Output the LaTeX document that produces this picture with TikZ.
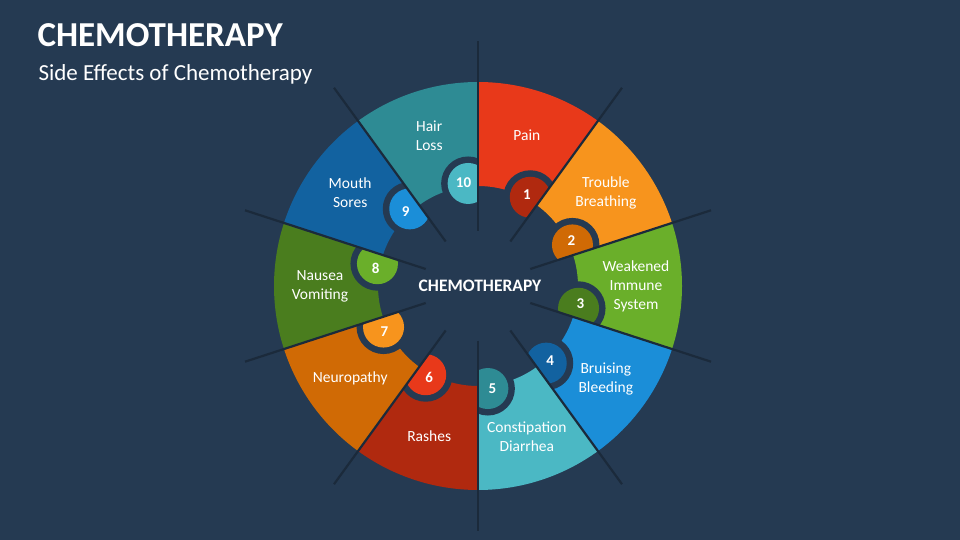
\documentclass[tikz,border=0pt]{standalone}
\usepackage{fontspec}
\setmainfont{Carlito}
\definecolor{bg}{HTML}{253A52}
\definecolor{ln}{HTML}{1B2A3B}
\definecolor{cA}{HTML}{E8391A}\definecolor{cAd}{HTML}{B0290F}
\definecolor{cB}{HTML}{F7941D}\definecolor{cBd}{HTML}{D06A05}
\definecolor{cC}{HTML}{6AAF2A}\definecolor{cCd}{HTML}{4A7D1E}
\definecolor{cD}{HTML}{1B8ED8}\definecolor{cDd}{HTML}{1262A0}
\definecolor{cE}{HTML}{4BB8C4}\definecolor{cEd}{HTML}{2E8B94}
\tikzset{lbl/.style={text=white,font=\fontsize{15.5}{19}\selectfont,align=center},
num/.style={text=white,font=\bfseries\fontsize{15}{17}\selectfont}}
\begin{document}
\begin{tikzpicture}[x=1pt,y=1pt]
\fill[bg] (0,0) rectangle (960,540);
\useasboundingbox (0,0) rectangle (960,540);
\node[anchor=west,text=white,font=\bfseries\fontsize{35}{40}\selectfont] (title) at (34,505) {CHEMOTHERAPY};
\node[anchor=west,text=white,font=\fontsize{23}{27}\selectfont] (sub) at (35,466) {Side Effects of Chemotherapy};
\begin{scope}[shift={(478,254)}]
\foreach \i/\sc/\cc/\txt in {1/cA/cAd/Pain,2/cB/cBd/Trouble\\Breathing,3/cC/cCd/Weakened\\Immune\\System,4/cD/cDd/Bruising\\Bleeding,5/cE/cEd/Constipation\\Diarrhea,6/cAd/cA/Rashes,7/cBd/cB/Neuropathy,8/cCd/cC/Nausea\\Vomiting,9/cDd/cD/Mouth\\Sores,10/cEd/cE/Hair\\Loss}{
  \pgfmathsetmacro\s{90-36*(\i-1)}
  \pgfmathsetmacro\e{90-36*\i}
  \pgfmathsetmacro\m{90-36*\i+18}
  \pgfmathsetmacro\ca{90-36*\i+5.5}
  \pgfmathsetmacro\cn{90-36*\i+8}
  \fill[\sc] (\s:204) arc[start angle=\s,end angle=\e,radius=204] -- (\e:100) arc[start angle=\e,end angle=\s,radius=100] -- cycle;
  \begin{scope}
    \clip (0,0) -- (\s:300) -- (\m:400) -- (\e:300) -- cycle;
    \fill[bg] (\ca:103) circle (27);
    \fill[\cc] (\ca:103) circle (20.5);
  \end{scope}
  \node[num] (n\i) at (\cn:104) {\i};
  \node[lbl] (l\i) at (\m:158) {\txt};
}
\foreach \i in {1,...,10}{
  \pgfmathsetmacro\a{90-36*\i}
  \draw[ln,line width=2.2pt] (\a:55) -- (\a:245);
}
\node[text=white,font=\bfseries\fontsize{17.5}{20}\selectfont] (ctr) at (2,0) {CHEMOTHERAPY};
\end{scope}
\end{tikzpicture}
\end{document}
